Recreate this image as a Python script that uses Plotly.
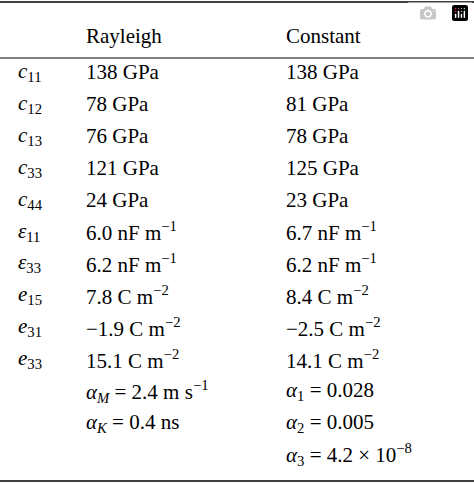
import plotly.graph_objects as go

headers = ["", "Rayleigh", "Constant"]
params = ["<i>c</i><sub>11</sub>", "<i>c</i><sub>12</sub>", "<i>c</i><sub>13</sub>", "<i>c</i><sub>33</sub>",
          "<i>c</i><sub>44</sub>", "<i>ε</i><sub>11</sub>", "<i>ε</i><sub>33</sub>", "<i>e</i><sub>15</sub>",
          "<i>e</i><sub>31</sub>", "<i>e</i><sub>33</sub>", "", "", ""]
rayleigh = ["138 GPa", "78 GPa", "76 GPa", "121 GPa", "24 GPa",
            "6.0 nF m<sup>−1</sup>", "6.2 nF m<sup>−1</sup>", "7.8 C m<sup>−2</sup>",
            "−1.9 C m<sup>−2</sup>", "15.1 C m<sup>−2</sup>",
            "<i>α</i><sub><i>M</i></sub> = 2.4 m s<sup>−1</sup>", "<i>α</i><sub><i>K</i></sub> = 0.4 ns", ""]
constant = ["138 GPa", "81 GPa", "78 GPa", "125 GPa", "23 GPa",
            "6.7 nF m<sup>−1</sup>", "6.2 nF m<sup>−1</sup>", "8.4 C m<sup>−2</sup>",
            "−2.5 C m<sup>−2</sup>", "14.1 C m<sup>−2</sup>",
            "<i>α</i><sub>1</sub> = 0.028", "<i>α</i><sub>2</sub> = 0.005",
            "<i>α</i><sub>3</sub> = 4.2 × 10<sup>−8</sup>"]

W, H = 474, 483
col_x = [16, 84, 284]
y0, dy = 72, 31.9
font = dict(family="Liberation Serif", size=21, color="black")

fig = go.Figure()
ann = []
for x, h in zip(col_x, headers):
    if h:
        ann.append(dict(x=x, y=36, text=h, xanchor="left", yanchor="middle", showarrow=False, font=font))
for i, (p, r, c) in enumerate(zip(params, rayleigh, constant)):
    y = y0 + i * dy
    for x, t in zip(col_x, (p, r, c)):
        if t:
            ann.append(dict(x=x, y=y, text=t, xanchor="left", yanchor="middle", showarrow=False, font=font))

shapes = [dict(type="line", x0=0, x1=W, y0=yy, y1=yy, line=dict(color="black", width=w))
          for yy, w in ((2, 1.5), (58, 1), (481, 1.5))]

fig.update_layout(width=W, height=H, margin=dict(l=0, r=0, t=0, b=0),
                  paper_bgcolor="white", plot_bgcolor="white",
                  xaxis=dict(range=[0, W], visible=False, fixedrange=True),
                  yaxis=dict(range=[H, 0], visible=False, fixedrange=True),
                  annotations=ann, shapes=shapes, showlegend=False)
fig.write_html("out.html", post_script="document.body.style.margin='0';")
